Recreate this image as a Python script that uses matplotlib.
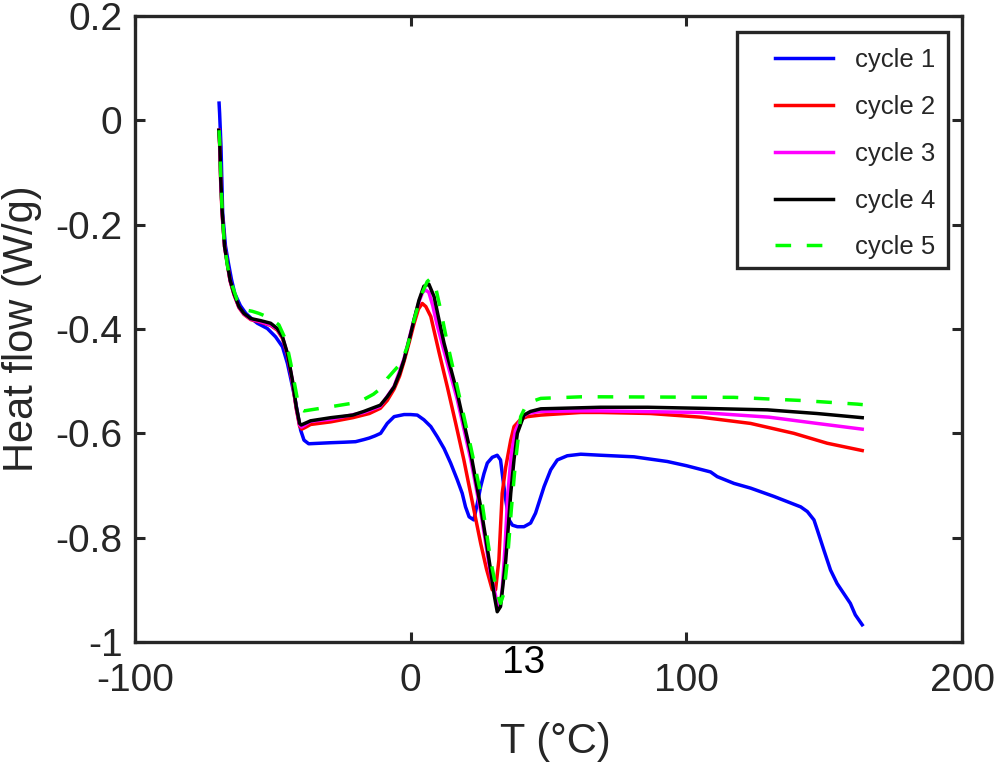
import matplotlib
matplotlib.use("Agg")
import matplotlib.pyplot as plt
from matplotlib.patches import Rectangle

plt.rcParams["font.family"] = ["Liberation Sans", "DejaVu Sans"]
plt.rcParams["axes.unicode_minus"] = False

# values (T in degC, heat flow in W/g)
t1 = [-69.5, -69.3, -68.8, -68.2, -67.2, -66.1, -65.0, -63.8, -61.8, -59.8, -57.5, -55.6,
      -52.0, -49.0, -46.5, -44.7, -43.5, -42.1, -40.9, -39.9, -38.7, -37.0, -33.0, -29.0,
      -24.0, -20.0, -17.0, -15.0, -13.0, -10.9, -8.5, -6.0, -2.4, 0.0, 2.4, 4.8, 7.3, 9.7,
      12.1, 14.5, 16.9, 18.7, 19.9, 21.2, 22.9, 24.2, 25.4, 26.6, 27.8, 29.6, 31.4, 32.6,
      33.5, 34.5, 35.7, 36.9, 38.7, 41.1, 43.5, 45.3, 48.4, 50.8, 53.2, 56.8, 61.7, 68.9,
      81.0, 93.1, 100.0, 108.8, 111.2, 117.3, 123.3, 131.8, 141.5, 143.9, 146.3, 147.5,
      149.9, 152.3, 154.7, 157.1, 159.5, 161.3, 163.8]
hf1 = [0.033, 0.013, -0.051, -0.178, -0.240, -0.274, -0.305, -0.332, -0.355, -0.370, -0.381,
       -0.389, -0.399, -0.415, -0.434, -0.466, -0.495, -0.530, -0.565, -0.594, -0.613, -0.620,
       -0.619, -0.618, -0.617, -0.616, -0.612, -0.609, -0.605, -0.600, -0.581, -0.568, -0.564,
       -0.564, -0.565, -0.574, -0.587, -0.607, -0.629, -0.657, -0.689, -0.715, -0.741, -0.760,
       -0.766, -0.734, -0.702, -0.677, -0.657, -0.646, -0.642, -0.651, -0.689, -0.728, -0.766,
       -0.776, -0.779, -0.779, -0.772, -0.753, -0.702, -0.670, -0.651, -0.643, -0.640, -0.642,
       -0.645, -0.654, -0.662, -0.674, -0.683, -0.696, -0.705, -0.721, -0.741, -0.750, -0.766,
       -0.785, -0.824, -0.862, -0.888, -0.907, -0.926, -0.948, -0.967]

t2 = [-69.5, -69.2, -68.9, -68.4, -67.5, -66.5, -65.5, -64.1, -62.3, -60.5, -58.0, -54.4,
      -50.8, -48.4, -46.5, -44.7, -42.9, -41.5, -40.3, -39.5, -38.0, -36.3, -29.0, -21.0,
      -15.0, -11.0, -8.5, -6.0, -4.0, -2.4, -0.5, 1.2, 2.8, 4.2, 5.5, 7.3, 10.3, 13.3, 16.3,
      19.3, 22.3, 25.4, 27.5, 29.6, 30.8, 32.0, 32.6, 33.2, 34.5, 36.3, 37.5, 39.9, 42.3,
      47.2, 61.7, 68.9, 87.0, 105.2, 123.3, 139.0, 151.1, 163.8]
hf2 = [-0.019, -0.060, -0.120, -0.180, -0.242, -0.276, -0.308, -0.334, -0.359, -0.372, -0.382,
       -0.387, -0.393, -0.402, -0.418, -0.450, -0.502, -0.553, -0.586, -0.592, -0.588, -0.583,
       -0.578, -0.570, -0.562, -0.552, -0.537, -0.515, -0.490, -0.462, -0.425, -0.390, -0.362,
       -0.351, -0.357, -0.376, -0.445, -0.511, -0.580, -0.651, -0.730, -0.811, -0.860, -0.900,
       -0.900, -0.843, -0.779, -0.715, -0.664, -0.613, -0.587, -0.573, -0.568, -0.565, -0.560,
       -0.560, -0.562, -0.569, -0.581, -0.600, -0.619, -0.633]

t3 = [-69.5, -69.2, -68.9, -68.4, -67.5, -66.5, -65.5, -64.1, -62.3, -60.5, -58.0, -54.4,
      -50.8, -48.4, -46.5, -44.7, -42.9, -41.5, -40.3, -39.6, -38.0, -36.3, -29.0, -17.0,
      -11.0, -6.0, -2.4, 1.2, 3.0, 4.3, 5.4, 6.6, 8.0, 9.5, 12.0, 16.9, 21.8, 25.4, 29.0,
      31.4, 32.3, 33.2, 34.2, 35.2, 36.5, 38.0, 40.0, 42.3, 47.0, 61.7, 68.9, 105.0, 130.0,
      147.4, 163.8]
hf3 = [-0.019, -0.053, -0.115, -0.176, -0.242, -0.275, -0.307, -0.333, -0.358, -0.371, -0.381,
       -0.386, -0.392, -0.400, -0.416, -0.448, -0.500, -0.551, -0.584, -0.588, -0.583, -0.577,
       -0.573, -0.560, -0.548, -0.510, -0.457, -0.382, -0.348, -0.330, -0.325, -0.330, -0.355,
       -0.390, -0.440, -0.535, -0.650, -0.750, -0.870, -0.925, -0.932, -0.900, -0.820, -0.720,
       -0.640, -0.595, -0.572, -0.562, -0.558, -0.557, -0.557, -0.560, -0.569, -0.581, -0.592]

t4 = [-69.6, -69.2, -68.9, -68.4, -67.5, -66.5, -65.5, -64.1, -62.3, -60.5, -58.0, -54.4,
      -50.8, -48.4, -46.5, -44.7, -42.9, -41.5, -40.3, -39.7, -38.0, -36.3, -29.0, -21.0,
      -17.0, -14.0, -11.0, -8.5, -6.0, -4.0, -2.4, -0.5, 1.2, 3.0, 4.8, 6.6, 8.5, 10.3,
      12.1, 14.5, 16.9, 19.3, 21.8, 23.6, 25.4, 27.2, 29.0, 30.3, 31.4, 32.6, 33.5, 34.5,
      35.4, 36.3, 37.5, 38.7, 41.1, 43.5, 47.2, 61.7, 68.9, 86.0, 105.0, 129.4, 147.4, 163.8]
hf4 = [-0.019, -0.051, -0.110, -0.172, -0.242, -0.274, -0.306, -0.332, -0.357, -0.370, -0.380,
       -0.384, -0.389, -0.399, -0.415, -0.447, -0.498, -0.549, -0.581, -0.584, -0.580, -0.576,
       -0.570, -0.565, -0.558, -0.552, -0.546, -0.530, -0.511, -0.485, -0.459, -0.420, -0.383,
       -0.345, -0.318, -0.314, -0.338, -0.383, -0.427, -0.475, -0.523, -0.580, -0.638, -0.690,
       -0.741, -0.800, -0.862, -0.910, -0.942, -0.932, -0.890, -0.843, -0.780, -0.715, -0.650,
       -0.600, -0.565, -0.558, -0.553, -0.551, -0.550, -0.550, -0.552, -0.555, -0.562, -0.570]

t5 = [-69.5, -69.2, -68.9, -68.4, -67.7, -66.6, -65.4, -63.0, -61.0, -59.4, -57.5, -55.1,
      -52.8, -50.8, -47.8, -45.3, -43.5, -41.7, -40.5, -38.7, -36.3, -29.0, -22.0, -17.0,
      -13.5, -10.9, -8.5, -6.0, -3.6, -1.2, 1.2, 3.6, 6.0, 7.3, 9.0, 10.9, 13.3, 16.9,
      21.8, 25.4, 29.0, 31.4, 32.6, 33.8, 35.1, 36.5, 38.1, 39.9, 42.3, 47.2, 61.7, 68.9,
      117.3, 141.5, 162.0, 164.0]
hf5 = [-0.019, -0.051, -0.110, -0.172, -0.229, -0.275, -0.306, -0.344, -0.357, -0.364, -0.366,
       -0.370, -0.375, -0.380, -0.392, -0.421, -0.466, -0.517, -0.552, -0.557, -0.555, -0.549,
       -0.543, -0.535, -0.525, -0.514, -0.495, -0.480, -0.466, -0.434, -0.383, -0.338, -0.309,
       -0.303, -0.319, -0.364, -0.427, -0.511, -0.626, -0.715, -0.843, -0.907, -0.926, -0.907,
       -0.843, -0.747, -0.651, -0.568, -0.542, -0.533, -0.530, -0.530, -0.531, -0.537, -0.544,
       -0.545]

series = [
    (t1, hf1, "cycle 1", "#0000ff", "-"),
    (t2, hf2, "cycle 2", "#ff0000", "-"),
    (t3, hf3, "cycle 3", "#ff00ff", "-"),
    (t4, hf4, "cycle 4", "#000000", "-"),
    (t5, hf5, "cycle 5", "#00ff00", (0, (4.5, 4.5))),
]

x_ticks = [-100, 0, 100, 200]
y_ticks = [-1, -0.8, -0.6, -0.4, -0.2, 0, 0.2]
y_tick_labels = ["-1", "-0.8", "-0.6", "-0.4", "-0.2", "0", "0.2"]

dark = "#262626"

fig = plt.figure(figsize=(9.96, 7.64), dpi=100)
ax = fig.add_axes([135 / 996, 1 - 642 / 764, 827 / 996, 626 / 764])

for t, hf, name, color, ls in series:
    ax.plot(t, hf, color=color, linestyle=ls, lw=2.5, label=name)

ax.set_xlim(-100, 200)
ax.set_ylim(-1, 0.2)
ax.set_xticks(x_ticks)
ax.set_xticklabels([str(v) for v in x_ticks])
ax.set_yticks(y_ticks)
ax.set_yticklabels(y_tick_labels)

for sp in ax.spines.values():
    sp.set_linewidth(2.4)
    sp.set_color(dark)
ax.tick_params(direction="in", length=7.5, width=2.2, color=dark, labelcolor=dark,
               labelsize=28, top=True, right=True)
ax.tick_params(axis="x", pad=15)
ax.tick_params(axis="y", pad=9)

ax.set_xlabel("T (°C)", fontsize=30, color=dark)
ax.xaxis.set_label_coords(0.508, -0.16)
ax.xaxis.label.set_va("center")
ax.set_ylabel("Heat flow (W/g)", fontsize=30, color=dark)
ax.yaxis.set_label_coords(-0.137, 0.5)
ax.yaxis.label.set_va("center")

# stray "13" label under the axis
ax.text(41, -0.0335, "13", transform=ax.get_xaxis_transform(), fontsize=28,
        color="black", ha="center", va="center")

# legend box drawn separately (MATLAB style: wide left margin)
frame = Rectangle((737 / 996, 1 - 268 / 764), 211 / 996, 236 / 764,
                  transform=fig.transFigure, facecolor="white", edgecolor=dark,
                  lw=2.4, zorder=4)
ax.add_patch(frame)
frame.set_clip_on(False)

leg = ax.legend(loc="upper left", bbox_to_anchor=((775 - 135) / 827, (642 - 48) / 626),
                borderaxespad=0, borderpad=0, fontsize=18.5, frameon=False,
                handlelength=2.26, handletextpad=0.86, labelspacing=0.89)
leg.set_zorder(5)
for txt in leg.get_texts():
    txt.set_color(dark)

fig.savefig("out.png", dpi=100)
